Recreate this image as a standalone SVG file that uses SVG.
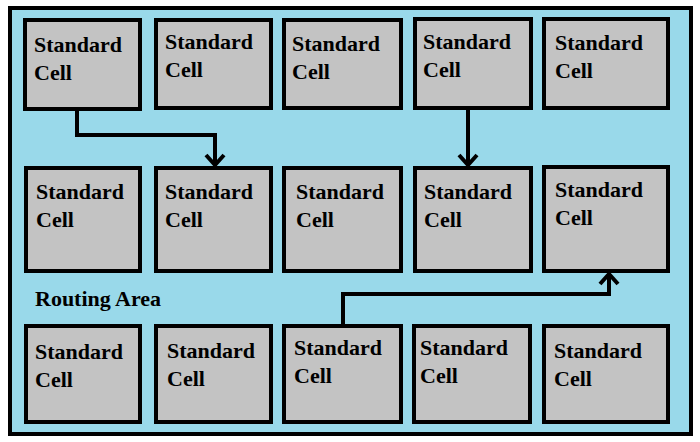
<svg xmlns="http://www.w3.org/2000/svg" width="700" height="442" viewBox="0 0 700 442">
<style>
.c{fill:#c3c3c3;stroke:#000;stroke-width:4}
.t{font-family:'Liberation Serif','Times New Roman',Tinos,'DejaVu Serif',serif;font-weight:700;font-size:22px;fill:#000}
.w{fill:none;stroke:#000;stroke-width:4}
</style>
<defs>
<marker id="a" markerUnits="userSpaceOnUse" markerWidth="24" markerHeight="24" refX="12" refY="12" orient="auto">
<polyline points="2,3 12,12 2,21" fill="none" stroke="#000" stroke-width="4"/>
</marker>
</defs>
<rect x="10" y="8" width="681" height="426" fill="#99d9ea" stroke="#000" stroke-width="4"/>
<g id="r1c1"><rect class="c" x="25" y="20" width="115" height="89"/><text class="t" x="34" y="52">Standard</text><text class="t" x="34" y="80">Cell</text></g>
<g id="r1c2"><rect class="c" x="156" y="20" width="115" height="88"/><text class="t" x="165" y="49">Standard</text><text class="t" x="165" y="77">Cell</text></g>
<g id="r1c3"><rect class="c" x="284" y="20" width="117" height="88"/><text class="t" x="292" y="51">Standard</text><text class="t" x="292" y="79">Cell</text></g>
<g id="r1c4"><rect class="c" x="415" y="19" width="116" height="89"/><text class="t" x="423" y="49">Standard</text><text class="t" x="423" y="77">Cell</text></g>
<g id="r1c5"><rect class="c" x="544" y="19" width="124" height="89"/><text class="t" x="555" y="50">Standard</text><text class="t" x="555" y="78">Cell</text></g>
<g id="r2c1"><rect class="c" x="26" y="168" width="114" height="103"/><text class="t" x="36" y="199">Standard</text><text class="t" x="36" y="227">Cell</text></g>
<g id="r2c2"><rect class="c" x="156" y="168" width="115" height="103"/><text class="t" x="165" y="199">Standard</text><text class="t" x="165" y="227">Cell</text></g>
<g id="r2c3"><rect class="c" x="284" y="168" width="117" height="103"/><text class="t" x="296" y="199">Standard</text><text class="t" x="296" y="227">Cell</text></g>
<g id="r2c4"><rect class="c" x="415" y="168" width="116" height="103"/><text class="t" x="424" y="199">Standard</text><text class="t" x="424" y="227">Cell</text></g>
<g id="r2c5"><rect class="c" x="544" y="167" width="124" height="104"/><text class="t" x="555" y="197">Standard</text><text class="t" x="555" y="225">Cell</text></g>
<g id="routing"><text class="t" x="35" y="306">Routing Area</text></g>
<g id="r3c1"><rect class="c" x="26" y="326" width="114" height="96"/><text class="t" x="35" y="359">Standard</text><text class="t" x="35" y="387">Cell</text></g>
<g id="r3c2"><rect class="c" x="156" y="326" width="115" height="96"/><text class="t" x="167" y="358">Standard</text><text class="t" x="167" y="386">Cell</text></g>
<g id="r3c3"><rect class="c" x="284" y="326" width="117" height="96"/><text class="t" x="294" y="355">Standard</text><text class="t" x="294" y="383">Cell</text></g>
<g id="r3c4"><rect class="c" x="414" y="326" width="116" height="96"/><text class="t" x="420" y="355">Standard</text><text class="t" x="420" y="383">Cell</text></g>
<g id="r3c5"><rect class="c" x="544" y="326" width="124" height="96"/><text class="t" x="554" y="358">Standard</text><text class="t" x="554" y="386">Cell</text></g>
<g id="connectors">
<polyline class="w" points="77,109 77,135 215,135 215,165" marker-end="url(#a)"/>
<polyline class="w" points="468,108 468,165" marker-end="url(#a)"/>
<polyline class="w" points="343,326 343,294 609,294 609,274" marker-end="url(#a)"/>
</g>
</svg>
